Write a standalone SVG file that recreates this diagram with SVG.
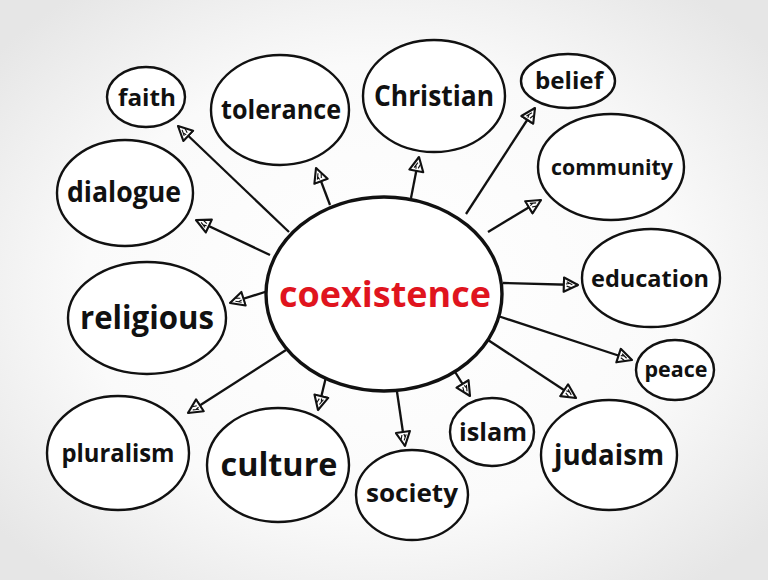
<svg xmlns="http://www.w3.org/2000/svg" width="768" height="580" viewBox="0 0 768 580">
<defs>
<radialGradient id="bg" cx="50%" cy="50%" r="65%">
<stop offset="0" stop-color="#ffffff"/>
<stop offset="0.6" stop-color="#fafafa"/>
<stop offset="1" stop-color="#e6e6e6"/>
</radialGradient>
<marker id="ah" viewBox="0 0 12 12" refX="11" refY="6" markerWidth="17" markerHeight="17" markerUnits="userSpaceOnUse" orient="auto">
<path d="M1,1 L11,6 L1,11 Z" fill="#fff" stroke="#111" stroke-width="1.5" stroke-linejoin="round"/>
<path d="M3,4 L7,6 M3,7 L6,8 M2.5,5.5 L5,5" stroke="#111" stroke-width="0.8"/>
</marker>
</defs>
<style>
.n{fill:#fff;stroke:#111;stroke-width:2.4}
.t{font-family:"Open Sans","Noto Sans",sans-serif;font-weight:700;fill:#111;text-anchor:middle}
.c line{stroke:#111;stroke-width:2.3;marker-end:url(#ah)}
</style>
<rect width="768" height="580" fill="url(#bg)"/>
<g class="c" id="connectors">
<line x1="289" y1="232" x2="178" y2="126"/>
<line x1="330" y1="205" x2="316" y2="168"/>
<line x1="270" y1="255" x2="196" y2="220"/>
<line x1="411" y1="198" x2="419" y2="157"/>
<line x1="466" y1="214" x2="535" y2="108"/>
<line x1="488" y1="232" x2="541" y2="200"/>
<line x1="503" y1="283" x2="578" y2="285"/>
<line x1="498" y1="316" x2="632" y2="360"/>
<line x1="488" y1="340" x2="576" y2="398"/>
<line x1="452" y1="367" x2="470" y2="396"/>
<line x1="396" y1="385" x2="405" y2="446"/>
<line x1="326" y1="377" x2="318" y2="410"/>
<line x1="286" y1="350" x2="188" y2="413"/>
<line x1="268" y1="291" x2="230" y2="303"/>
</g>
<g id="center">
<ellipse cx="384" cy="294" rx="118" ry="97" fill="#fff" stroke="#111" stroke-width="3.4"/>
<text x="385" y="307" class="t" style="fill:#e0141e" font-size="36" textLength="212" lengthAdjust="spacingAndGlyphs">coexistence</text>
</g>
<g id="faith"><ellipse class="n" cx="146" cy="97" rx="39" ry="30"/><text class="t" x="147" y="106" font-size="23" textLength="58" lengthAdjust="spacingAndGlyphs">faith</text></g>
<g id="tolerance"><ellipse class="n" cx="280" cy="110" rx="69" ry="55"/><text class="t" x="281" y="119" font-size="27" textLength="120" lengthAdjust="spacingAndGlyphs">tolerance</text></g>
<g id="christian"><ellipse class="n" cx="434" cy="96" rx="71" ry="56"/><text class="t" x="434" y="106" font-size="28" textLength="120" lengthAdjust="spacingAndGlyphs">Christian</text></g>
<g id="belief"><ellipse class="n" cx="568" cy="81" rx="47" ry="27"/><text class="t" x="569" y="89" font-size="23" textLength="68" lengthAdjust="spacingAndGlyphs">belief</text></g>
<g id="community"><ellipse class="n" cx="611" cy="167" rx="73" ry="53"/><text class="t" x="612" y="175" font-size="22" textLength="122" lengthAdjust="spacingAndGlyphs">community</text></g>
<g id="dialogue"><ellipse class="n" cx="125" cy="193" rx="68" ry="53"/><text class="t" x="124" y="202" font-size="29" textLength="114" lengthAdjust="spacingAndGlyphs">dialogue</text></g>
<g id="education"><ellipse class="n" cx="651" cy="278" rx="69" ry="49"/><text class="t" x="650" y="287" font-size="24" textLength="118" lengthAdjust="spacingAndGlyphs">education</text></g>
<g id="religious"><ellipse class="n" cx="147" cy="318" rx="79" ry="56"/><text class="t" x="147" y="329" font-size="33" textLength="134" lengthAdjust="spacingAndGlyphs">religious</text></g>
<g id="peace"><ellipse class="n" cx="675" cy="370" rx="39" ry="30"/><text class="t" x="676" y="377" font-size="21" textLength="63" lengthAdjust="spacingAndGlyphs">peace</text></g>
<g id="pluralism"><ellipse class="n" cx="118" cy="453" rx="71" ry="57"/><text class="t" x="118" y="462" font-size="25" textLength="113" lengthAdjust="spacingAndGlyphs">pluralism</text></g>
<g id="culture"><ellipse class="n" cx="278" cy="465" rx="71" ry="57"/><text class="t" x="279" y="476" font-size="33" textLength="117" lengthAdjust="spacingAndGlyphs">culture</text></g>
<g id="society"><ellipse class="n" cx="412" cy="495" rx="56" ry="45"/><text class="t" x="412" y="502" font-size="25" textLength="92" lengthAdjust="spacingAndGlyphs">society</text></g>
<g id="islam"><ellipse class="n" cx="492" cy="432" rx="42" ry="34"/><text class="t" x="493" y="441" font-size="25" textLength="68" lengthAdjust="spacingAndGlyphs">islam</text></g>
<g id="judaism"><ellipse class="n" cx="609" cy="455" rx="68" ry="55"/><text class="t" x="609" y="465" font-size="29" textLength="110" lengthAdjust="spacingAndGlyphs">judaism</text></g>
</svg>
